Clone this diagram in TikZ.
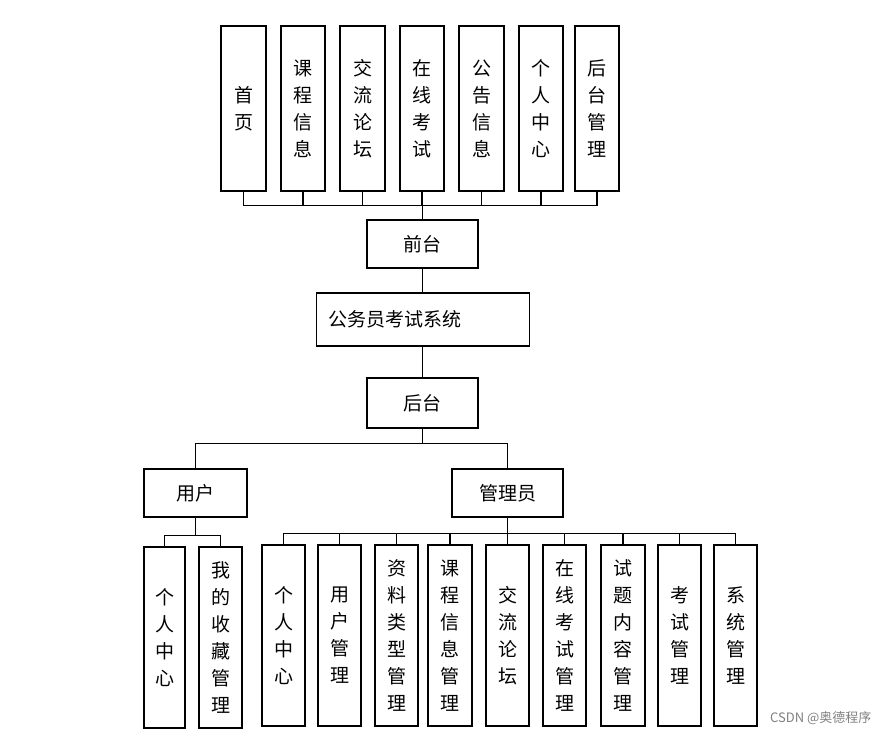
\documentclass[tikz,border=0pt]{standalone}
\usepackage{fontspec}
\setmainfont{Noto Sans CJK SC}
\begin{document}
\begin{tikzpicture}[x=1pt,y=-1pt,
  bx/.style={draw,line width=1.3pt,inner sep=0pt,font=\fontsize{19}{27}\selectfont},
  vt/.style={bx,align=center},
  ln/.style={line width=1.2pt}]
\useasboundingbox (0,0) rectangle (888,736);
\newcommand\myvbox[6]{\node[vt,minimum width=#3-#2,minimum height=#5-#4] (#1) at ({(#2+#3)/2},{(#4+#5)/2}) {#6};}
\newcommand\myhbox[6]{\node[bx,minimum width=#3-#2,minimum height=#5-#4] (#1) at ({(#2+#3)/2},{(#4+#5)/2}) {#6};}
% top
\myvbox{t1}{221}{266}{26}{191}{首\\页}
\myvbox{t2}{281}{325}{26}{191}{课\\程\\信\\息}
\myvbox{t3}{340}{385}{26}{191}{交\\流\\论\\坛}
\myvbox{t4}{400}{444}{26}{191}{在\\线\\考\\试}
\myvbox{t5}{459}{504}{26}{191}{公\\告\\信\\息}
\myvbox{t6}{519}{563}{26}{191}{个\\人\\中\\心}
\myvbox{t7}{575}{619}{26}{191}{后\\台\\管\\理}
\myhbox{qt}{367}{478}{220}{268}{前台}
\node[bx,minimum width=213,minimum height=53,anchor=west,text width=190,inner xsep=11pt] (sys) at (316,319.5) {公务员考试系统};
\myhbox{ht}{367}{478}{378}{428}{后台}
\myhbox{yh}{144}{247}{469}{517}{用户}
\myhbox{gly}{452}{563}{469}{517}{管理员}
\myvbox{u1}{144}{185}{547}{728}{个\\人\\中\\心}
\myvbox{u2}{199}{242}{547}{728}{我\\的\\收\\藏\\管\\理}
\myvbox{a1}{262}{305}{545}{726}{个\\人\\中\\心}
\myvbox{a2}{318}{361}{545}{726}{用\\户\\管\\理}
\myvbox{a3}{375}{418}{545}{726}{资\\料\\类\\型\\管\\理}
\myvbox{a4}{428}{472}{545}{726}{课\\程\\信\\息\\管\\理}
\myvbox{a5}{486}{529}{545}{726}{交\\流\\论\\坛}
\myvbox{a6}{543}{586}{545}{726}{在\\线\\考\\试\\管\\理}
\myvbox{a7}{601}{645}{545}{726}{试\\题\\内\\容\\管\\理}
\myvbox{a8}{658}{701}{545}{726}{考\\试\\管\\理}
\myvbox{a9}{714}{757}{545}{726}{系\\统\\管\\理}
% connectors
\foreach \n in {t1,t2,t3,t4,t5,t6,t7} \draw[ln] (\n.south) -- ++(0,14) -| (qt.north);
\draw[ln] (qt.south) -- (qt.south |- sys.north);
\draw[ln] (qt.south |- sys.south) -- (ht.north);
\draw[ln] (ht.south) -- ++(0,15) -| (yh.north);
\draw[ln] (ht.south) -- ++(0,15) -| (gly.north);
\foreach \n in {u1,u2} \draw[ln] (yh.south) -- ++(0,18) -| (\n.north);
\foreach \n in {a1,a2,a3,a4,a5,a6,a7,a8,a9} \draw[ln] (gly.south) -- ++(0,16) -| (\n.north);
\node[text=gray,font=\fontsize{13}{15}\selectfont,anchor=east] (wm) at (875,718) {CSDN @奥德程序};
\end{tikzpicture}
\end{document}
